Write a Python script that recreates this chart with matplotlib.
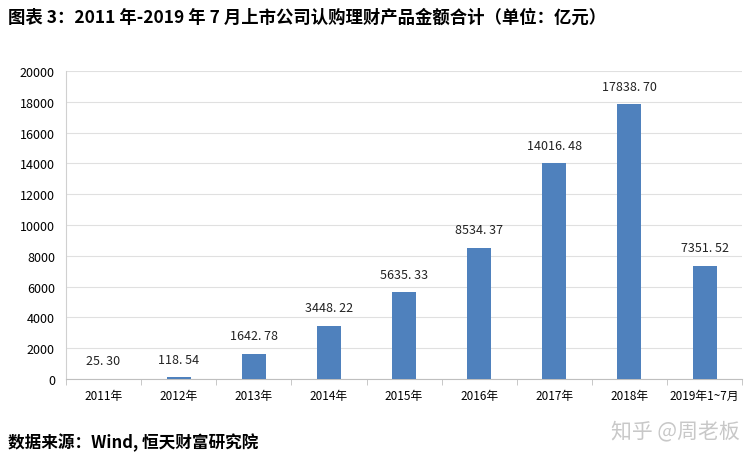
import matplotlib.pyplot as plt
import numpy as np

plt.rcParams['font.family'] = ['Noto Sans CJK SC', 'DejaVu Sans']

# data
categories = ['2011年', '2012年', '2013年', '2014年', '2015年', '2016年',
              '2017年', '2018年', '2019年1~7月']
amounts = [25.30, 118.54, 1642.78, 3448.22, 5635.33, 8534.37,
           14016.48, 17838.70, 7351.52]
yticks = list(range(0, 20001, 2000))

fig = plt.figure(figsize=(7.55, 4.64), dpi=100)
ax = fig.add_axes([0.0874, 0.181, 0.8956, 0.664])

x = np.arange(len(categories))
ax.bar(x, amounts, width=0.32, color='#4F81BD', zorder=3)

for xi, v in zip(x, amounts):
    label = f'{v:.2f}'.replace('.', '. ')
    ax.text(xi, v + 750, label, ha='center', va='bottom', fontsize=9,
            color='#222222')

ax.set_xlim(-0.5, len(categories) - 0.5)
ax.set_ylim(0, 20000)
ax.set_yticks(yticks)
ax.set_yticklabels([str(t) for t in yticks], fontsize=9)
ax.set_xticks(x)
ax.set_xticklabels(categories, fontsize=8.5)
ax.set_xticks(np.arange(-0.5, len(categories)), minor=True)
ax.tick_params(axis='x', which='major', length=0, pad=7)
ax.tick_params(axis='x', which='minor', length=4, color='#bfbfbf')
ax.tick_params(axis='y', length=0, pad=8)

ax.grid(axis='y', color='#e0e0e0', linewidth=0.8, zorder=0)
for s in ['top', 'right']:
    ax.spines[s].set_visible(False)
ax.spines['left'].set_color('#d0d0d0')
ax.spines['bottom'].set_color('#bfbfbf')

fig.text(0.011, 0.962, '图表 3：2011 年-2019 年 7 月上市公司认购理财产品金额合计（单位：亿元）',
         fontsize=12.5, fontweight='bold', ha='left', va='center')
fig.text(0.011, 0.045, '数据来源：Wind, 恒天财富研究院', fontsize=12,
         fontweight='bold', style='italic', ha='left', va='center')
fig.text(0.98, 0.068, '知乎 @周老板', fontsize=15, color='#c8c8c8',
         ha='right', va='center')

plt.savefig('out.png', dpi=100)
plt.close()
